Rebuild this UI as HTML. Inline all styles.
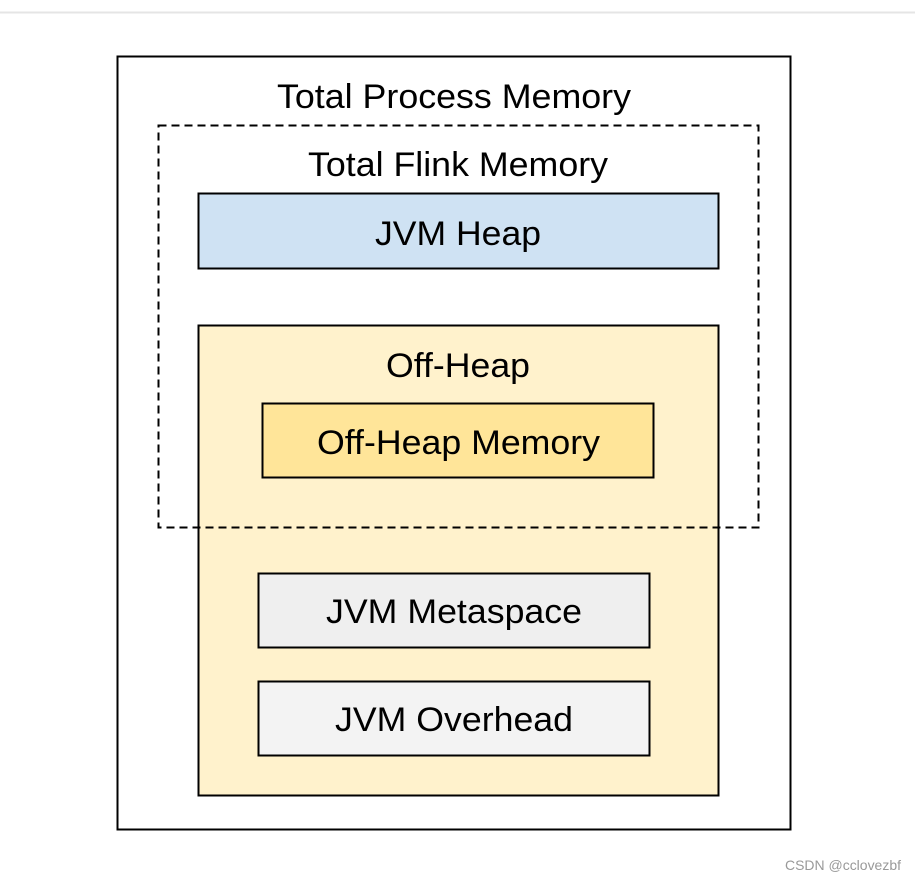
<!DOCTYPE html>
<html><head><style>body{margin:0;background:#fff}svg{display:block}</style></head><body>
<svg width="915" height="881" xmlns="http://www.w3.org/2000/svg" font-family="Liberation Sans, Arial, sans-serif">
<rect x="0" y="0" width="915" height="881" fill="#fff"/>
<line x1="0" y1="12.5" x2="915" y2="12.5" stroke="#e5e5e5" stroke-width="2"/>
<rect x="117.5" y="56.5" width="673" height="773" fill="#fff" stroke="#000" stroke-width="2"/>
<text x="277" y="108" font-size="34" textLength="354" lengthAdjust="spacingAndGlyphs" fill="#000">Total Process Memory</text>
<rect x="198.5" y="325.5" width="520" height="470" fill="#fff2cc" stroke="#000" stroke-width="2"/>
<rect x="158.5" y="125.5" width="600" height="402" fill="none" stroke="#000" stroke-width="2" stroke-dasharray="8,5"/>
<text x="308" y="176" font-size="34" textLength="300" lengthAdjust="spacingAndGlyphs" fill="#000">Total Flink Memory</text>
<rect x="198.5" y="193.5" width="520" height="75" fill="#cfe2f3" stroke="#000" stroke-width="2"/>
<text x="375" y="245" font-size="34" textLength="166" lengthAdjust="spacingAndGlyphs" fill="#000">JVM Heap</text>
<text x="386" y="377" font-size="34" textLength="144" lengthAdjust="spacingAndGlyphs" fill="#000">Off-Heap</text>
<rect x="262.5" y="403.5" width="391" height="74" fill="#ffe599" stroke="#000" stroke-width="2"/>
<text x="317" y="454" font-size="34" textLength="283" lengthAdjust="spacingAndGlyphs" fill="#000">Off-Heap Memory</text>
<rect x="258.5" y="573.5" width="391" height="74" fill="#efefef" stroke="#000" stroke-width="2"/>
<text x="326" y="623" font-size="34" textLength="256" lengthAdjust="spacingAndGlyphs" fill="#000">JVM Metaspace</text>
<rect x="258.5" y="681.5" width="391" height="74" fill="#f3f3f3" stroke="#000" stroke-width="2"/>
<text x="335" y="731" font-size="34" textLength="238" lengthAdjust="spacingAndGlyphs" fill="#000">JVM Overhead</text>
<text x="785" y="870" font-size="14" textLength="116" lengthAdjust="spacingAndGlyphs" fill="#999">CSDN @cclovezbf</text>
</svg>
</body></html>
